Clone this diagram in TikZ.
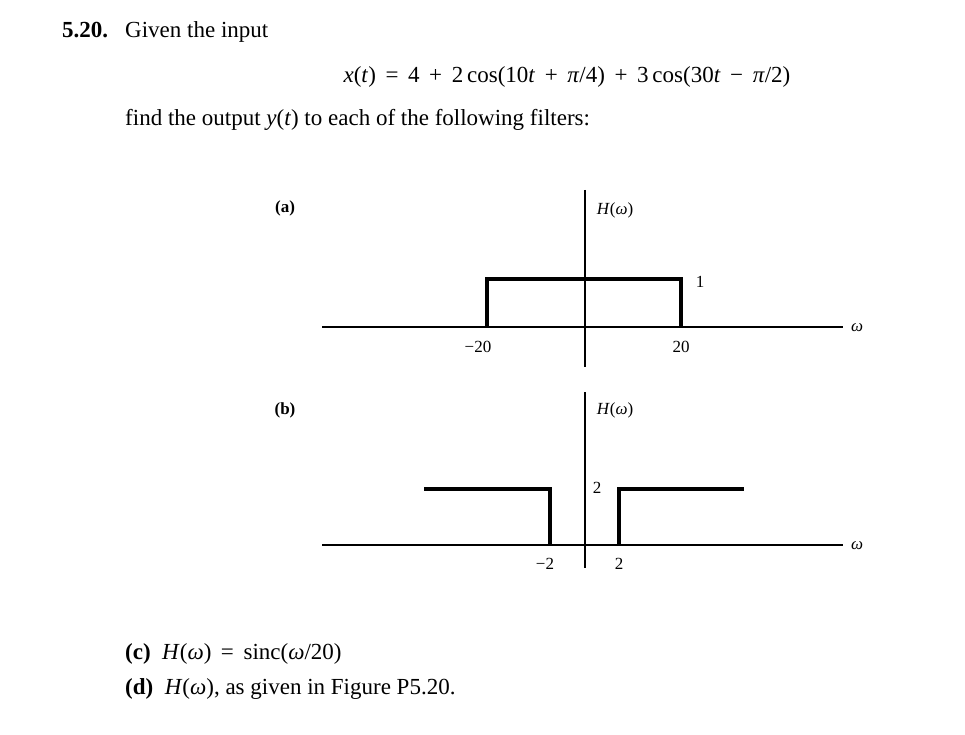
\documentclass[tikz,border=0pt]{standalone}
\usepackage{fontspec}
\setmainfont{Liberation Serif}
\newcommand{\iv}[1]{\textit{#1}}
\begin{document}
\begin{tikzpicture}[x=1pt,y=-1pt,
  big/.style={inner sep=0,anchor=base west,font=\fontsize{23}{27}\selectfont},
  small/.style={inner sep=0,font=\fontsize{17}{20}\selectfont},
  axis/.style={line width=1.1pt},
  curve/.style={line width=3.2pt}]
\useasboundingbox (0,0) rectangle (965,735);
\fill[white] (0,0) rectangle (965,735);
\node[big] (n) at (62,38) {\textbf{5.20.}};
\node[big] (g) at (125,38) {Given the input};
\node[big,anchor=base] (eq) at (567,83) {\iv{x}(\iv{t})\ \,=\ \,4\ \,+\ \,2\,cos(10\iv{t}\ \,+\ \,\iv{π}/4)\ \,+\ \,3\,cos(30\iv{t}\ \,−\ \,\iv{π}/2)};
\node[big] (f) at (125,126) {find the output \iv{y}(\iv{t}) to each of the following filters:};
% (a)
\node[small,font=\fontsize{17}{20}\selectfont\bfseries] (la) at (285,208) {(a)};
\coordinate (ax1) at (322,327); \coordinate (ax2) at (843,327);
\coordinate (ay1) at (585,190); \coordinate (ay2) at (585,367);
\draw[axis] (ax1) -- (ax2); \draw[axis] (ay1) -- (ay2);
\coordinate (r1) at (487,327); \coordinate (r2) at (487,279);
\coordinate (r3) at (681,279); \coordinate (r4) at (681,327);
\draw[curve] (r1) -- (r2) -- (r3) -- (r4);
\node[small] (wa) at (857,328) {\iv{ω}};
\node[small] (ha) at (615,210) {\iv{H}(\iv{ω})};
\node[small] (one) at (700,282) {1};
\node[small] (m20) at (478,347) {−20};
\node[small] (p20) at (681,347) {20};
% (b)
\node[small,font=\fontsize{17}{20}\selectfont\bfseries] (lb) at (285,410) {(b)};
\coordinate (bx1) at (322,545); \coordinate (bx2) at (843,545);
\coordinate (by1) at (585,392); \coordinate (by2) at (585,568);
\draw[axis] (bx1) -- (bx2); \draw[axis] (by1) -- (by2);
\coordinate (l1) at (424,489); \coordinate (l2) at (550,489); \coordinate (l3) at (550,545);
\draw[curve] (l1) -- (l2) -- (l3);
\coordinate (s1) at (619,545); \coordinate (s2) at (619,489); \coordinate (s3) at (744,489);
\draw[curve] (s1) -- (s2) -- (s3);
\node[small] (wb) at (857,546) {\iv{ω}};
\node[small] (hb) at (615,410) {\iv{H}(\iv{ω})};
\node[small] (two) at (597,488) {2};
\node[small] (m2) at (545,564) {−2};
\node[small] (p2) at (619,564) {2};
% (c),(d)
\node[big] (c) at (125,659) {\textbf{(c)}\ \ \iv{H}(\iv{ω})\ \,=\ \,sinc(\iv{ω}/20)};
\node[big] (d) at (125,694) {\textbf{(d)}\ \ \iv{H}(\iv{ω}), as given in Figure P5.20.};
\end{tikzpicture}
\end{document}
